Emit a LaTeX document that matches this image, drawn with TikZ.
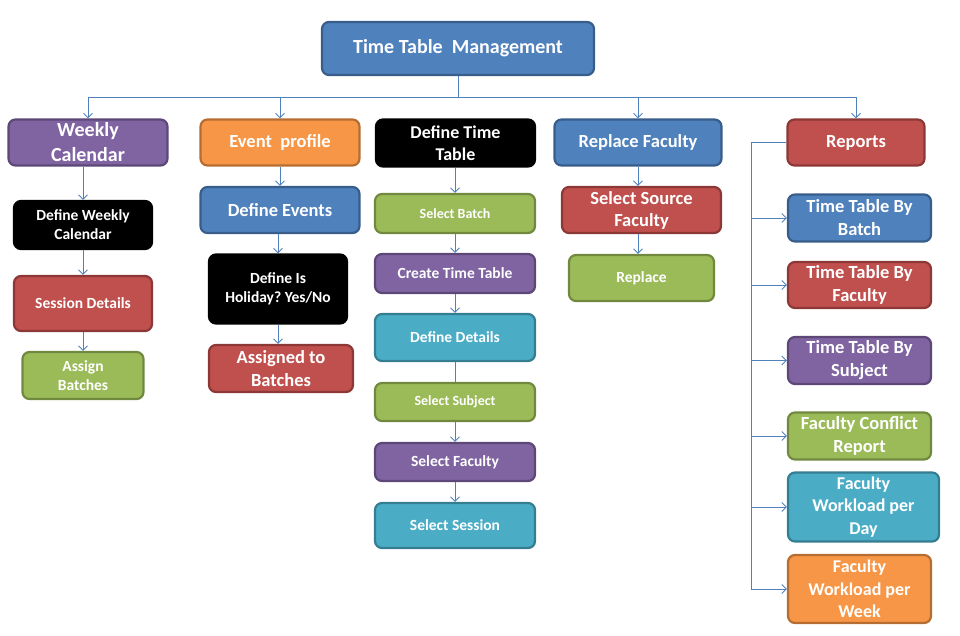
\documentclass[tikz,border=0pt]{standalone}
\usepackage{fontspec}
\setmainfont{Carlito}
\usepackage{tikz}
\usetikzlibrary{arrows.meta,positioning}
\frenchspacing

\definecolor{tblue}{HTML}{4F81BD}
\definecolor{tblueline}{HTML}{385D8A}
\definecolor{tred}{HTML}{C0504D}
\definecolor{tredline}{HTML}{8C3836}
\definecolor{tgreen}{HTML}{9BBB59}
\definecolor{tgreenline}{HTML}{71893F}
\definecolor{tpurple}{HTML}{8064A2}
\definecolor{tpurpleline}{HTML}{5C4776}
\definecolor{tteal}{HTML}{4BACC6}
\definecolor{ttealline}{HTML}{357D91}
\definecolor{torange}{HTML}{F79646}
\definecolor{torangeline}{HTML}{B66D31}

\begin{document}
\begin{tikzpicture}[x=1pt, y=-1pt,
    box/.style={draw, rounded corners=7pt, line width=2.2pt, text=white, align=center, inner sep=0pt},
    bluebox/.style={box, fill=tblue, draw=tblueline},
    redbox/.style={box, fill=tred, draw=tredline},
    greenbox/.style={box, fill=tgreen, draw=tgreenline},
    purplebox/.style={box, fill=tpurple, draw=tpurpleline},
    tealbox/.style={box, fill=tteal, draw=ttealline},
    orangebox/.style={box, fill=torange, draw=torangeline},
    blackbox/.style={box, fill=black, draw=black},
    titletext/.style={font=\fontsize{20}{24}\selectfont\bfseries},
    bigtext/.style={font=\fontsize{18.5}{23}\selectfont\bfseries},
    smalltext/.style={font=\fontsize{15.5}{19}\selectfont\bfseries},
    link/.style={draw=tblue, line width=0.9pt},
    arrow/.style={link, -{Straight Barb[length=4.5pt,width=9pt]}}
]
    \useasboundingbox (0,0) rectangle (960,636);

    % top
    \node[bluebox, titletext, minimum width=272pt, minimum height=53pt] (ttm) at (458,48.5) {Time Table~ Management};

    % first row
    \node[purplebox, titletext, minimum width=159pt, minimum height=46pt, font=\fontsize{20}{25}\selectfont\bfseries] (weekly) at (88,142.5) {Weekly\\Calendar};
    \node[orangebox, bigtext, minimum width=159pt, minimum height=46pt] (event) at (280,142.5) {Event~ profile};
    \node[blackbox, bigtext, minimum width=159pt, minimum height=47pt, font=\fontsize{18}{22}\selectfont\bfseries] (deftt) at (455.5,143) {Define Time\\Table};
    \node[bluebox, bigtext, minimum width=167pt, minimum height=46pt] (replfac) at (638,142.5) {Replace Faculty};
    \node[redbox, bigtext, minimum width=137pt, minimum height=46pt] (reports) at (856,142.5) {Reports};

    % weekly calendar column
    \node[blackbox, smalltext, minimum width=138pt, minimum height=48pt] (defweekly) at (83,225) {Define Weekly\\Calendar};
    \node[redbox, smalltext, minimum width=138pt, minimum height=55pt] (session) at (83,303.5) {Session Details};
    \node[greenbox, smalltext, minimum width=121pt, minimum height=47pt] (assign) at (83,375.5) {Assign\\Batches};

    % event column
    \node[bluebox, bigtext, minimum width=159pt, minimum height=46pt] (defevents) at (280,210) {Define Events};
    \node[blackbox, smalltext, minimum width=138pt, minimum height=69pt] (holiday) at (278,289) {Define Is\\Holiday? Yes/No};
    \node[redbox, bigtext, minimum width=144pt, minimum height=47pt] (assigned) at (281,368.5) {Assigned to\\Batches};

    % time table column
    \node[greenbox, smalltext, minimum width=160pt, minimum height=39pt, font=\fontsize{14}{16}\selectfont\bfseries] (selbatch) at (455,213.5) {Select Batch};
    \node[purplebox, smalltext, minimum width=160pt, minimum height=39pt] (creatett) at (455,273.5) {Create Time Table};
    \node[tealbox, smalltext, minimum width=160pt, minimum height=47pt] (defdetails) at (455,337.5) {Define Details};
    \node[greenbox, smalltext, minimum width=160pt, minimum height=38pt, font=\fontsize{14}{16}\selectfont\bfseries] (selsubject) at (455,402) {Select Subject};
    \node[purplebox, smalltext, minimum width=160pt, minimum height=38pt] (selfaculty) at (455,462) {Select Faculty};
    \node[tealbox, smalltext, minimum width=160pt, minimum height=45pt] (selsession) at (455,525.5) {Select Session};

    % replace column
    \node[redbox, bigtext, minimum width=159pt, minimum height=46pt, font=\fontsize{18.5}{22}\selectfont\bfseries] (srcfaculty) at (641.5,210) {Select Source\\Faculty};
    \node[greenbox, smalltext, minimum width=145pt, minimum height=46pt] (replace) at (641.5,278) {Replace};

    % reports column
    \node[bluebox, bigtext, minimum width=143pt, minimum height=47pt] (ttbatch) at (859.5,218) {Time Table By\\Batch};
    \node[redbox, bigtext, minimum width=143pt, minimum height=46pt] (ttfaculty) at (859.5,285) {Time Table By\\Faculty};
    \node[purplebox, bigtext, minimum width=143pt, minimum height=47pt] (ttsubject) at (859.5,360.5) {Time Table By\\Subject};
    \node[greenbox, bigtext, minimum width=143pt, minimum height=47pt] (conflict) at (859.5,436) {Faculty Conflict\\Report};
    \node[tealbox, bigtext, minimum width=151pt, minimum height=69pt, font=\fontsize{18}{22.5}\selectfont\bfseries] (wday) at (863.5,507) {Faculty\\Workload per\\Day};
    \node[orangebox, bigtext, minimum width=143pt, minimum height=68pt, font=\fontsize{18}{22.5}\selectfont\bfseries] (wweek) at (859.5,589) {Faculty\\Workload per\\Week};

    % connectors from the top
    \coordinate (bar) at (458,97);
    \draw[link] (ttm.south) -- (bar);
    \draw[link] (bar -| weekly.north) -- (bar -| reports.north);
    \foreach \n in {weekly, event, replfac, reports}
        \draw[arrow] (bar -| \n.north) -- (\n.north);

    % chains
    \draw[arrow] (weekly.south -| defweekly.north) -- (defweekly.north);
    \draw[arrow] (defweekly.south) -- (session.north);
    \draw[arrow] (session.south) -- (assign.north);

    \draw[arrow] (event.south) -- (defevents.north);
    \draw[arrow] (defevents.south -| holiday.north) -- (holiday.north);
    \draw[arrow] (holiday.south) -- (holiday.south |- assigned.north);

    \draw[arrow] (deftt.south -| selbatch.north) -- (selbatch.north);
    \draw[arrow] (selbatch.south) -- (creatett.north);
    \draw[arrow] (creatett.south) -- (defdetails.north);
    \draw[link] (defdetails.south) -- (selsubject.north);
    \draw[arrow] (selsubject.south) -- (selfaculty.north);
    \draw[arrow] (selfaculty.south) -- (selsession.north);

    \draw[arrow] (replfac.south) -- (replfac.south |- srcfaculty.north);
    \draw[arrow] (srcfaculty.south -| replfac.south) -- (replfac.south |- replace.north);

    % reports tree
    \coordinate (rtop) at (751,142.5);
    \draw[link] (reports.west) -- (rtop) -- (rtop |- wweek.west);
    \foreach \n in {ttbatch, ttfaculty, ttsubject, conflict, wday, wweek}
        \draw[arrow] (rtop |- \n.west) -- (\n.west);
\end{tikzpicture}
\end{document}
